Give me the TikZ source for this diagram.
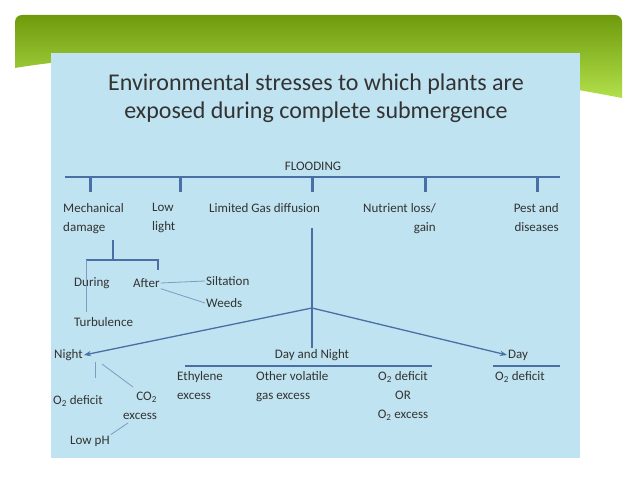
\documentclass[tikz,border=0pt]{standalone}
\usepackage{fontspec}
\setmainfont{Carlito}
\usetikzlibrary{arrows.meta}
\definecolor{panel}{HTML}{BFE3F0}
\definecolor{ln}{HTML}{4A6FA5}
\definecolor{tx}{HTML}{333333}
\definecolor{gtop}{HTML}{6E9A0C}
\definecolor{gbot}{HTML}{B2E04A}
\tikzset{
 lbl/.style={text=tx,font=\fontsize{13}{19}\selectfont,inner sep=1pt,align=left},
 lnk/.style={draw=ln,line width=1.3pt},
 thin/.style={draw=ln!70,line width=0.8pt},
 tick/.style={draw=ln,line width=3pt},
 arr/.style={draw=ln,line width=1.3pt,-{Stealth[length=7pt]}}
}
\begin{document}
\begin{tikzpicture}[x=1pt,y=-1pt]
\useasboundingbox (0,0) rectangle (638,478);
\fill[white] (0,0) rectangle (638,478);
\shade[top color=gtop,bottom color=gbot] (15,22) arc(180:270:7) -- (615,15) arc(270:360:7) -- (622,98) .. controls (400,55) and (150,45) .. (15,68) -- cycle;
\fill[panel] (51,53) rectangle (580,458);
\node[text=tx,font=\fontsize{24}{28}\selectfont,align=center] (title) at (316,98) {Environmental stresses to which plants are\\exposed during complete submergence};
\node[lbl] (fl) at (313,166) {FLOODING};
\coordinate (hl) at (65,177); \coordinate (hr) at (560,177);
\draw[lnk] (hl) -- (hr);
\foreach \x in {90,180,312,425,537} \draw[tick] (\x,177) -- (\x,192);
\node[lbl,anchor=north west] (mech) at (62,202) {Mechanical\\damage};
\node[lbl,anchor=north west] (low) at (151,202) {Low\\light};
\node[lbl,anchor=north west] (lgd) at (208,202) {Limited Gas diffusion};
\node[lbl,anchor=north west,align=right] (nut) at (362,202) {Nutrient loss/\\gain};
\node[lbl,anchor=north east,align=right] (pest) at (560,202) {Pest and\\diseases};
\coordinate (m1) at (113,240); \coordinate (m2) at (113,260);
\draw[lnk] (m1) -- (m2); \draw[lnk] (86,260) -- (158,260) -- (158,270);
\node[lbl,anchor=west] (dur) at (73,283) {During};
\node[lbl,anchor=west] (aft) at (132,283) {After};
\node[lbl,anchor=west] (sil) at (205,281) {Siltation};
\node[lbl,anchor=west] (wee) at (205,303) {Weeds};
\node[lbl,anchor=west] (tur) at (73,322) {Turbulence};
\draw[thin] (86,260) -- (86,312);
\draw[thin] (aft.east) -- (sil.west);
\draw[thin] (aft.south east) -- (wee.west);
\coordinate (fork) at (312,308);
\node[lbl,anchor=west] (night) at (53,355) {Night};
\node[lbl] (dn) at (312,355) {Day and Night};
\node[lbl,anchor=west] (day) at (507,355) {Day};
\draw[lnk] (312,228) -- (dn.north);
\draw[arr] (fork) -- (night.east);
\draw[arr] (fork) -- (day.west);
\draw[lnk] (185,366) -- (432,366);
\draw[lnk] (493,366) -- (560,366);
\node[lbl,anchor=north west] (eth) at (176,370) {Ethylene\\excess};
\node[lbl,anchor=north west] (oth) at (255,370) {Other volatile\\gas excess};
\node[lbl,anchor=north,align=center] (o2x) at (403,370) {O\textsubscript{2} deficit\\OR\\O\textsubscript{2} excess};
\node[lbl,anchor=north west] (dd) at (494,370) {O\textsubscript{2} deficit};
\node[lbl,anchor=west] (nd) at (52,401) {O\textsubscript{2} deficit};
\node[lbl,anchor=north west,align=right] (co2) at (122,391) {CO\textsubscript{2}\\excess};
\node[lbl,anchor=west] (ph) at (69,441) {Low pH};
\draw[thin] (95,362) -- (95,378);
\draw[thin] (102,364) -- (133,387);
\draw[thin] (co2.south) ++(-12,2) -- (ph.north east);
\end{tikzpicture}
\end{document}
